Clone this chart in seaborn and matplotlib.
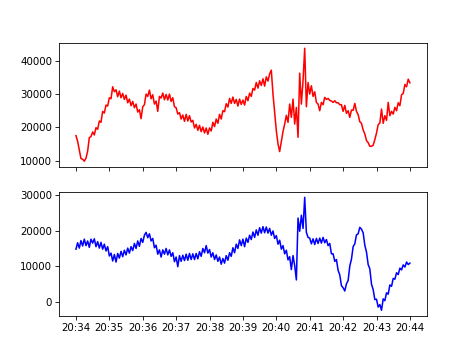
import seaborn as sns
import pandas as pd
import numpy as np
import matplotlib.pyplot as plt
import matplotlib.dates as mdates

# one sample every 3 s, 20:34:00 .. 20:44:00
times = pd.date_range("2023-01-01 20:34:00", periods=201, freq="3s")

top_values = [
    17500, 15800, 13200, 10600, 10400, 9800, 10700, 12800, 16900, 17200,
    18600, 17700, 19900, 19400, 21900, 21500, 24800, 24300, 26700, 26400,
    28900, 28600, 32200, 30700, 31300, 29200, 30900, 28900, 30200, 28400,
    29700, 27400, 28500, 26500, 27800, 25900, 27000, 24600, 25300, 22600,
    26200, 26800, 30000, 29300, 31200, 28600, 29800, 27000, 27900, 24800,
    29300, 28800, 30300, 28300, 29900, 28200, 30000, 27800, 28900, 26200,
    25900, 24000, 24400, 22500, 23700, 21800, 23900, 21900, 23500, 21600,
    22100, 19800, 20900, 19100, 20600, 18700, 20100, 18300, 19800, 17900,
    19800, 18900, 21500, 20200, 22500, 21200, 23900, 22500, 25000, 24700,
    27100, 26100, 28700, 27200, 29100, 27200, 28400, 26400, 28500, 26900,
    28200, 26700, 29300, 28000, 30300, 29300, 31700, 31200, 33500, 31800,
    34000, 32600, 34600, 32400, 35200, 33900, 36100, 37200, 30000, 24500,
    19000, 15000, 12700, 15800, 18700, 21000, 23600, 21500, 27000, 23000,
    28500, 21000, 26000, 17000, 36300, 27000, 34000, 43800, 26200, 33500,
    30000, 32500, 29300, 30700, 27500, 27000, 25000, 27500, 26800, 29000,
    28400, 28700, 28100, 27900, 27500, 28000, 27400, 27400, 26800, 26800,
    24800, 26600, 24200, 25000, 23000, 25200, 25100, 27200, 24800, 23800,
    21700, 21200, 19200, 18000, 16000, 15400, 14300, 14300, 14600, 16300,
    18300, 20800, 21300, 25500, 21200, 23500, 22100, 27500, 23500, 24800,
    24000, 26000, 25000, 27400, 26500, 29800, 30200, 32900, 32200, 34500,
    33400,
]

bottom_values = [
    14800, 16600, 15100, 17200, 15700, 17600, 15800, 17100, 15300, 17600,
    16500, 17700, 15500, 16900, 15100, 16700, 14800, 16200, 14300, 15500,
    12900, 13700, 11500, 13300, 11200, 13600, 12300, 14200, 12700, 14500,
    13200, 15100, 13700, 15500, 14400, 16400, 15000, 17100, 15600, 17800,
    16700, 18700, 19500, 18000, 19100, 17100, 17800, 15200, 15900, 13400,
    14600, 12600, 14600, 13400, 15000, 13200, 14600, 12800, 13800, 11300,
    12600, 9900, 13000, 11400, 13100, 11600, 13400, 11700, 13600, 11900,
    13500, 11900, 13600, 12100, 14100, 12800, 15000, 13800, 15800, 13700,
    14700, 12600, 13800, 11900, 13200, 11400, 12600, 10600, 12200, 10900,
    13000, 11700, 13800, 12800, 15200, 13800, 16200, 15000, 17400, 15800,
    17600, 15500, 17900, 16700, 18700, 17500, 19600, 18100, 20200, 18700,
    20800, 19300, 21100, 19400, 21000, 19300, 20600, 18700, 19900, 17800,
    18600, 16200, 17300, 14800, 15800, 13500, 14500, 11800, 12700, 9100,
    13000, 10200, 6200, 23500, 19800, 24300, 20600, 29300, 19500, 18100,
    17900, 16300, 17700, 16100, 17800, 16400, 17900, 16500, 18100, 16600,
    17500, 15800, 16400, 13500, 13500, 11400, 11900, 8900, 7600, 4600,
    4000, 3100, 5100, 6000, 10100, 12000, 15500, 16300, 18800, 19100,
    20900, 20400, 19400, 15900, 14000, 10500, 9300, 5000, 3500, 700,
    800, -1400, -700, -2300, 900, 400, 2600, 2200, 4800, 4400,
    6600, 6400, 8200, 7700, 9500, 9000, 10400, 9800, 11200, 10500,
    10900,
]

df = pd.DataFrame({"time": times, "top": top_values, "bottom": bottom_values})

fig, (ax1, ax2) = plt.subplots(2, 1, sharex=True, figsize=(474 / 74, 355 / 74), dpi=74)

sns.lineplot(data=df, x="time", y="top", color="red", ax=ax1)
sns.lineplot(data=df, x="time", y="bottom", color="blue", ax=ax2)

for ax in (ax1, ax2):
    ax.set_xlabel("")
    ax.set_ylabel("")

ax2.set_yticks([0, 10000, 20000, 30000])
ax2.xaxis.set_major_locator(mdates.MinuteLocator())
ax2.xaxis.set_major_formatter(mdates.DateFormatter("%H:%M"))

fig.savefig("out.png", dpi=74)
